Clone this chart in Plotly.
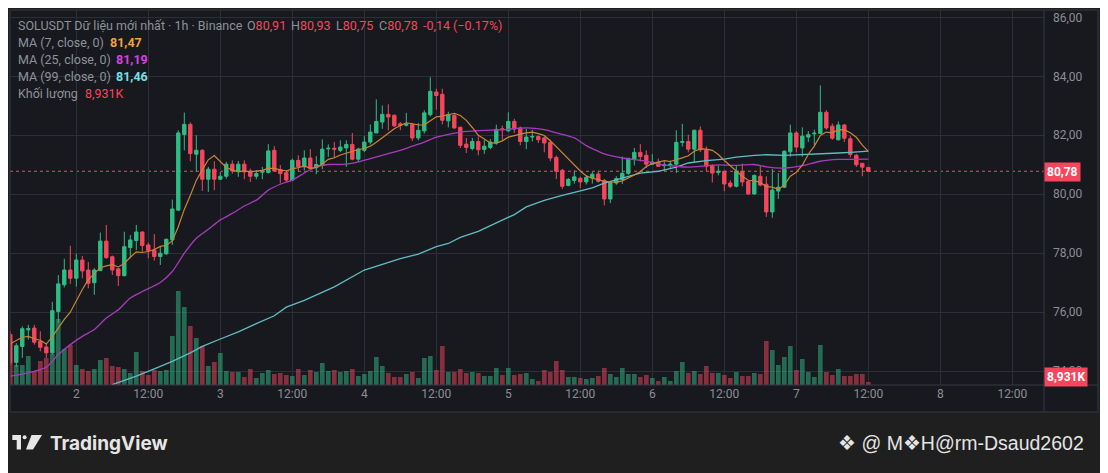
import pandas as pd
import plotly.graph_objects as go

# ---- data: SOLUSDT 1h candles, first candle = day 1 13:00, last = day 7 12:00 ----
opens = [75.24, 74.30, 74.84, 75.40, 75.46, 75.01, 74.82, 74.62, 76.02, 76.93,
         77.43, 77.15, 77.77, 77.43, 77.00, 77.41, 78.41, 77.88, 77.47, 77.24,
         78.19, 78.43, 78.72, 78.28, 78.11, 77.89, 77.98, 78.45, 79.46, 82.03,
         82.37, 81.36, 81.49, 80.51, 80.85, 80.51, 80.61, 81.02, 80.79, 81.02,
         80.79, 80.61, 80.75, 80.74, 81.49, 80.84, 80.73, 80.48, 81.15, 80.93,
         81.23, 80.90, 80.98, 81.54, 81.56, 81.49, 81.57, 81.69, 81.19, 81.49,
         81.77, 82.08, 82.45, 82.71, 82.68, 82.39, 82.34, 82.37, 81.91, 82.15,
         82.70, 83.47, 83.39, 82.49, 82.68, 82.27, 81.70, 81.55, 81.79, 81.52,
         81.59, 81.74, 82.22, 82.15, 82.47, 82.25, 81.79, 81.94, 81.96, 81.91,
         81.76, 81.25, 80.81, 80.30, 80.47, 80.54, 80.42, 80.55, 80.69, 80.47,
         79.84, 80.38, 80.50, 80.71, 81.19, 81.42, 81.32, 81.02, 81.09, 80.97,
         80.98, 81.02, 81.76, 81.79, 81.53, 82.17, 81.49, 80.98, 80.74, 80.78,
         80.38, 80.27, 80.78, 80.44, 80.01, 80.61, 80.34, 79.40, 80.11, 80.24,
         81.44, 82.08, 81.57, 81.94, 82.05, 82.06, 82.78, 82.31, 81.85, 82.35,
         81.88, 81.32, 81.05, 80.91]
highs = [75.35, 74.95, 75.52, 75.57, 75.57, 75.35, 74.92, 76.35, 77.26, 77.81,
         78.25, 77.98, 77.91, 77.70, 77.49, 78.70, 78.96, 77.92, 77.49, 78.73,
         78.62, 78.96, 78.74, 78.36, 78.65, 78.22, 78.50, 79.82, 82.17, 82.77,
         82.44, 82.00, 81.53, 80.93, 81.12, 80.76, 81.10, 81.15, 81.13, 81.15,
         80.87, 80.82, 80.93, 81.70, 81.63, 80.99, 80.82, 81.21, 81.32, 81.49,
         81.53, 81.29, 81.86, 81.69, 81.77, 81.83, 81.83, 82.08, 81.58, 81.97,
         82.37, 83.22, 83.01, 83.05, 82.70, 82.45, 82.76, 82.42, 82.42, 82.85,
         83.97, 83.58, 83.58, 82.80, 82.73, 82.30, 81.91, 81.91, 81.96, 81.85,
         81.87, 82.36, 82.33, 82.78, 82.56, 82.30, 82.22, 82.19, 81.99, 81.96,
         81.85, 81.31, 80.86, 80.55, 80.81, 80.59, 80.63, 80.76, 80.80, 80.52,
         80.44, 80.61, 81.28, 81.23, 81.57, 81.70, 81.49, 81.36, 81.21, 81.11,
         81.14, 82.17, 82.39, 82.02, 82.19, 82.30, 81.62, 81.02, 80.98, 80.80,
         80.47, 80.98, 81.04, 80.47, 80.67, 80.95, 80.61, 80.86, 80.72, 81.49,
         82.36, 82.14, 82.27, 82.14, 82.19, 83.69, 82.85, 82.40, 82.47, 82.38,
         81.97, 81.37, 81.06, 80.93]
lows = [74.20, 74.14, 74.45, 75.07, 74.90, 74.67, 74.45, 74.56, 75.63, 76.84,
        76.96, 76.87, 77.15, 76.81, 76.59, 77.39, 77.81, 77.26, 76.89, 77.21,
        77.83, 78.11, 78.05, 77.83, 77.75, 77.60, 77.94, 78.28, 79.43, 81.49,
        81.12, 80.76, 80.11, 80.08, 80.14, 80.48, 80.53, 80.70, 80.59, 80.51,
        80.42, 80.51, 80.51, 80.70, 80.76, 80.37, 80.42, 80.45, 80.76, 80.81,
        80.84, 80.68, 80.85, 81.27, 81.24, 81.43, 80.93, 81.15, 81.10, 81.43,
        81.69, 82.08, 82.22, 82.17, 82.28, 82.17, 82.30, 81.81, 81.83, 82.06,
        82.64, 82.87, 82.37, 82.27, 82.22, 81.57, 81.40, 81.49, 81.32, 81.37,
        81.53, 81.68, 81.85, 82.12, 82.08, 81.66, 81.53, 81.79, 81.74, 81.42,
        81.12, 80.52, 80.18, 80.27, 80.36, 80.21, 80.33, 80.36, 80.40, 79.62,
        79.70, 80.32, 80.35, 80.66, 80.98, 81.11, 80.89, 81.00, 80.93, 80.78,
        80.89, 80.72, 81.62, 81.42, 81.08, 81.43, 80.78, 80.40, 80.64, 80.10,
        80.21, 80.23, 80.27, 79.99, 79.99, 80.27, 79.23, 79.20, 79.84, 80.21,
        81.27, 81.42, 81.27, 81.77, 81.66, 82.05, 82.19, 81.85, 81.82, 81.77,
        81.25, 80.93, 80.61, 80.75]
closes = [74.28, 74.86, 75.44, 75.44, 74.98, 74.81, 74.62, 76.05, 76.96, 77.43,
          77.15, 77.77, 77.40, 76.98, 77.43, 78.41, 77.85, 77.43, 77.24, 78.22,
          78.45, 78.72, 78.26, 78.09, 77.89, 78.00, 78.47, 79.50, 82.08, 82.37,
          81.38, 81.49, 80.51, 80.85, 80.51, 80.61, 81.02, 80.79, 81.02, 80.76,
          80.61, 80.70, 80.78, 81.47, 80.79, 80.70, 80.48, 81.15, 80.93, 81.23,
          80.87, 81.01, 81.53, 81.56, 81.53, 81.60, 81.69, 81.19, 81.53, 81.77,
          82.11, 82.47, 82.71, 82.62, 82.32, 82.34, 82.37, 81.91, 82.17, 82.76,
          83.49, 83.35, 82.51, 82.70, 82.25, 81.66, 81.59, 81.79, 81.51, 81.63,
          81.77, 82.20, 82.19, 82.47, 82.21, 81.79, 81.94, 81.96, 81.85, 81.74,
          81.23, 80.78, 80.27, 80.50, 80.59, 80.42, 80.57, 80.68, 80.44, 79.84,
          80.40, 80.53, 80.71, 81.22, 81.42, 81.28, 81.02, 81.09, 80.95, 81.00,
          81.02, 81.76, 81.79, 81.53, 82.17, 81.51, 80.95, 80.72, 80.78, 80.35,
          80.27, 80.78, 80.42, 80.01, 80.64, 80.31, 79.40, 80.14, 80.24, 81.46,
          82.08, 81.60, 81.97, 82.02, 82.07, 82.78, 82.25, 81.90, 82.35, 81.90,
          81.35, 81.00, 80.92, 80.78]
# volume in thousands of SOL
volumes = [66, 60, 60, 87, 42, 72, 81, 93, 198, 108, 120, 60, 48, 42, 48, 75, 81, 57, 54, 48,
           36, 99, 42, 30, 45, 42, 45, 147, 282, 234, 177, 141, 117, 57, 69, 96, 42, 39, 39, 24,
           48, 21, 36, 45, 33, 36, 30, 27, 48, 30, 45, 39, 66, 42, 45, 39, 42, 48, 27, 33,
           42, 84, 57, 36, 24, 24, 33, 39, 21, 81, 87, 45, 117, 39, 39, 48, 36, 39, 36, 27,
           27, 51, 30, 51, 30, 33, 36, 18, 12, 45, 39, 72, 45, 24, 24, 21, 18, 21, 27, 51,
           33, 24, 51, 33, 33, 24, 30, 21, 12, 24, 12, 42, 69, 36, 42, 33, 57, 36, 36, 30,
           21, 39, 27, 27, 36, 33, 132, 105, 60, 84, 117, 45, 78, 39, 24, 120, 39, 30, 48, 27,
           27, 33, 33, 8.931]

# moving averages (MA7 head before 7 candles exist, MA25/MA99 samples)
ma7_head = [74.93, 75.05, 75.15, 75.18, 75.10, 75.05]
ma25_idx = [0, 3, 6, 8, 10, 12, 14, 16, 18, 20, 22, 25, 27, 29, 31, 33, 35, 37, 39, 41,
            43, 45, 47, 49, 51, 53, 56, 58, 60, 63, 65, 67, 69, 71, 73, 75, 78, 82, 86, 89,
            91, 94, 96, 97, 99, 102, 106, 108, 111, 113, 116, 118, 121, 124, 126, 129, 132,
            135, 138, 140, 143]
ma25_val = [73.83, 73.94, 74.13, 74.56, 74.90, 75.18, 75.41, 75.80, 76.08, 76.48, 76.70,
            77.01, 77.38, 78.00, 78.51, 78.81, 79.13, 79.35, 79.60, 79.80, 80.14, 80.34,
            80.48, 80.72, 80.93, 81.01, 81.02, 81.10, 81.21, 81.38, 81.49, 81.63, 81.77,
            81.94, 82.03, 82.11, 82.16, 82.19, 82.25, 82.19, 82.08, 81.91, 81.65, 81.55,
            81.37, 81.23, 81.12, 81.02, 80.95, 80.92, 80.97, 81.00, 80.98, 81.01, 80.93,
            80.89, 80.97, 81.12, 81.18, 81.18, 81.19]
ma99_idx = [17, 21, 24, 27, 30, 32, 35, 38, 41, 44, 46, 49, 54, 59, 65, 68, 71, 73, 75, 78,
            81, 84, 86, 89, 92, 95, 97, 99, 102, 105, 108, 111, 113, 116, 119, 121, 124, 126,
            129, 132, 135, 138, 140, 143]
ma99_val = [73.54, 73.83, 74.08, 74.33, 74.62, 74.84, 75.09, 75.33, 75.61, 75.88, 76.17,
            76.40, 76.86, 77.43, 77.82, 77.97, 78.22, 78.33, 78.54, 78.74, 79.03, 79.31,
            79.57, 79.79, 79.96, 80.12, 80.22, 80.38, 80.55, 80.72, 80.78, 80.92, 81.06,
            81.14, 81.19, 81.26, 81.32, 81.34, 81.32, 81.34, 81.37, 81.40, 81.42, 81.46]

price_ticks = [74, 76, 78, 80, 82, 84, 86]
time_labels = ["2", "12:00", "3", "12:00", "4", "12:00", "5", "12:00",
               "6", "12:00", "7", "12:00", "8", "12:00"]

# ---- style ----
UP, DOWN = "#2ebd85", "#f6465d"
OUTER, PANE = "#1f1f1f", "#18191e"
GRID, BORDER = "#2c2f38", "#363942"
TXT, LEG = "#8b8e97", "#8d919b"
FONT = "Roboto"

t0 = pd.Timestamp("2026-02-01 13:00")
times = pd.date_range(t0, periods=len(closes), freq="h")
hour = pd.Timedelta(hours=1)

ma7 = pd.Series(closes).rolling(7).mean()
ma7.iloc[:6] = ma7_head

up = [c >= o for o, c in zip(opens, closes)]
vol_colors = ["rgba(46,189,133,0.5)" if u else "rgba(246,70,93,0.5)" for u in up]

# page offset of the figure (browser body margin), plot area in page pixels
PAGE = 8
L, R, T, B = 10, 1044, 10, 385
def px(x):
    return (x - L) / (R - L)
def py(y):
    return (B - y) / (B - T)

fig = go.Figure()
fig.add_trace(go.Bar(x=times, y=volumes, marker=dict(color=vol_colors, line=dict(width=0)),
                     width=0.78 * 3600 * 1000, hoverinfo="skip"))
fig.add_trace(go.Candlestick(
    x=times, open=opens, high=highs, low=lows, close=closes, yaxis="y2",
    increasing=dict(line=dict(color=UP, width=1), fillcolor=UP),
    decreasing=dict(line=dict(color=DOWN, width=1), fillcolor=DOWN),
    whiskerwidth=0, hoverinfo="skip"))
fig.add_trace(go.Scatter(x=[times[i] for i in ma99_idx], y=ma99_val, yaxis="y2", mode="lines",
                         line=dict(color="#5fbcc4", width=1.3), hoverinfo="skip"))
fig.add_trace(go.Scatter(x=[times[i] for i in ma25_idx], y=ma25_val, yaxis="y2", mode="lines",
                         line=dict(color="#a83bbd", width=1.3, shape="spline", smoothing=0.6),
                         hoverinfo="skip"))
fig.add_trace(go.Scatter(x=times, y=ma7, yaxis="y2", mode="lines",
                         line=dict(color="#c98537", width=1.2), hoverinfo="skip"))

last = closes[-1]

shapes = [
    dict(type="rect", xref="paper", yref="paper", x0=px(10), x1=px(1098), y0=py(412), y1=py(10),
         fillcolor=PANE, line=dict(width=0), layer="below"),
    dict(type="line", xref="paper", yref="y2", x0=0, x1=1, y0=last, y1=last,
         line=dict(color=DOWN, width=1, dash="dot"), layer="below"),
]
for x0, y0, x1, y1 in [(10, 10, 1098, 10), (10, 10, 10, 412), (1098, 10, 1098, 412),
                       (10, 412, 1098, 412), (1044, 10, 1044, 412), (10, 385, 1098, 385)]:
    shapes.append(dict(type="line", xref="paper", yref="paper", x0=px(x0), x1=px(x1),
                       y0=py(y0), y1=py(y1), line=dict(color=BORDER, width=1)))
# TradingView logo mark
LOGO = "#e6e6e6"
shapes += [
    dict(type="rect", xref="paper", yref="paper", x0=px(12.3), x1=px(21), y0=py(440), y1=py(435),
         fillcolor=LOGO, line=dict(width=0)),
    dict(type="rect", xref="paper", yref="paper", x0=px(16.7), x1=px(21), y0=py(449.5), y1=py(435),
         fillcolor=LOGO, line=dict(width=0)),
    dict(type="circle", xref="paper", yref="paper", x0=px(22.6), x1=px(26.6), y0=py(439.2),
         y1=py(435.2), fillcolor=LOGO, line=dict(width=0)),
    dict(type="path", xref="paper", yref="paper",
         path=f"M {px(31.5)} {py(435)} L {px(42)} {py(435)} L {px(33)} {py(449.5)} "
              f"L {px(26)} {py(449.5)} Z",
         fillcolor=LOGO, line=dict(width=0)),
]

ann = []
def label(x, y, text, color=LEG, size=12, weight=None, anchor="left", bg=None, family=FONT):
    ann.append(dict(xref="paper", yref="paper", x=px(x), y=py(y), text=text, showarrow=False,
                    xanchor=anchor, yanchor="middle", bgcolor=bg, borderpad=2,
                    font=dict(family=family, size=size, color=color, weight=weight)))

def fmt(v):
    return f"{v:.2f}".replace(".", ",")

label(15, 25, "SOLUSDT Dữ liệu mới nhất · 1h · Binance", size=12.5)
label(244, 25, f"O<span style='color:{DOWN}'>{fmt(opens[-1])}</span>", size=12.5)
label(288, 25, f"H<span style='color:{DOWN}'>{fmt(highs[-1])}</span>", size=12.5)
label(333, 25, f"L<span style='color:{DOWN}'>{fmt(lows[-1])}</span>", size=12.5)
label(376, 25, f"C<span style='color:{DOWN}'>{fmt(closes[-1])}</span>", size=12.5)
label(420, 25, "-0,14 (−0.17%)", color=DOWN, size=12.5)
label(15, 42, "MA (7, close, 0)", size=12.5)
label(107, 42, "81,47", color="#f0a33a", weight=700, size=12.5)
label(15, 59, "MA (25, close, 0)", size=12.5)
label(113, 59, "81,19", color="#d93fe6", weight=700, size=12.5)
label(15, 76, "MA (99, close, 0)", size=12.5)
label(113, 76, "81,46", color="#72e0e8", weight=700, size=12.5)
label(15, 93, "Khối lượng", size=12.5)
label(82, 93, "8,931K", color=DOWN, size=12.5)

label(1044, 171.5, fmt(last), color="#ffffff", weight=700, bg=DOWN)
label(1044, 377, "8,931K", color="#ffffff", weight=700, bg=DOWN)

label(47, 443, "TradingView", color=LOGO, size=19, weight=700, family="Inter")
label(835, 443, "❖ @ M❖H@rm-Dsaud2602", color="#e4e4e4", size=19.5, family="Liberation Sans")

fig.update_layout(
    width=1108 - PAGE, height=473 - PAGE,
    margin=dict(l=L - PAGE, r=1108 - R, t=T - PAGE, b=473 - B),
    paper_bgcolor=OUTER, plot_bgcolor=PANE,
    separators=",.",
    showlegend=False,
    boxgap=0.2,
    font=dict(family=FONT, size=12, color=TXT),
    xaxis=dict(type="date", range=[t0 - 0.05 * hour, t0 + 172.28 * hour],
               tickvals=pd.date_range("2026-02-02 00:00", periods=len(time_labels), freq="12h"),
               ticktext=time_labels, showgrid=True, gridcolor=GRID, zeroline=False,
               showline=False, ticks="", rangeslider=dict(visible=False),
               tickfont=dict(size=12, color=TXT)),
    yaxis=dict(range=[0, 1125], visible=False),
    yaxis2=dict(overlaying="y", side="right", range=[73.53, 86.25], tickvals=price_ticks,
                tickformat=".2f", showgrid=True, gridcolor=GRID, zeroline=False, ticks="",
                ticklabelstandoff=8, tickfont=dict(size=12, color=TXT)),
    shapes=shapes,
    annotations=ann,
)

fig.write_html("out.html")
